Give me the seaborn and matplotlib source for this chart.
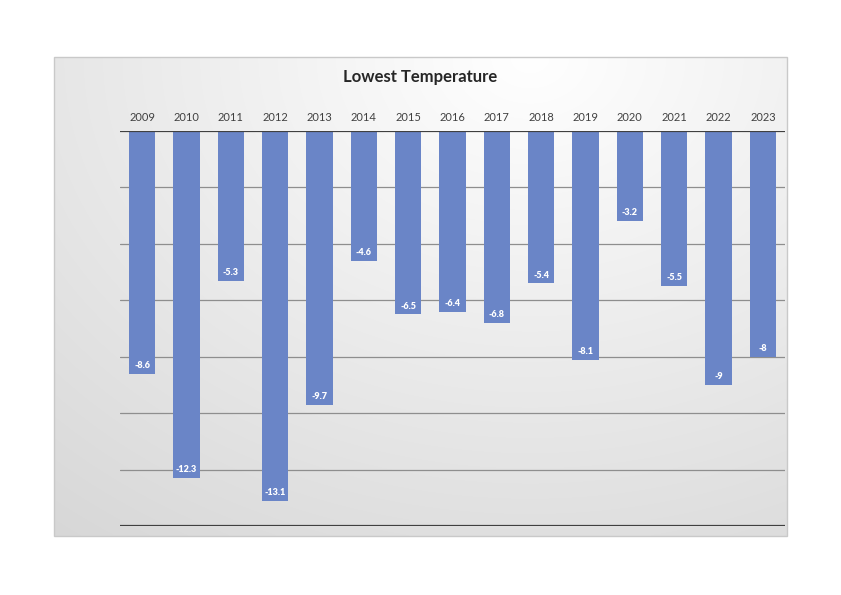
import numpy as np
import pandas as pd
import matplotlib
matplotlib.use("Agg")
import matplotlib.pyplot as plt
import seaborn as sns
from matplotlib.patches import Rectangle

years = ["2009", "2010", "2011", "2012", "2013", "2014", "2015", "2016",
         "2017", "2018", "2019", "2020", "2021", "2022", "2023"]
lowest = [-8.6, -12.3, -5.3, -13.1, -9.7, -4.6, -6.5, -6.4,
          -6.8, -5.4, -8.1, -3.2, -5.5, -9, -8]
title = "Lowest Temperature"

sns.set_theme(style="white")
plt.rcParams['font.family'] = ['Lato', 'DejaVu Sans']

W, H = 841, 595
fig = plt.figure(figsize=(W / 100, H / 100), dpi=100)
fig.patch.set_facecolor("white")

# chart area with radial gradient background
bx0, by0, bx1, by1 = 54, 57, 787, 536
bg = fig.add_axes([bx0 / W, 1 - by1 / H, (bx1 - bx0) / W, (by1 - by0) / H])
ny, nx = 240, 360
yy, xx = np.mgrid[0:1:ny * 1j, 0:1:nx * 1j]
cx, cy = 0.65, 0.0
d = np.sqrt(((xx - cx) * 1.2) ** 2 + (yy - cy) ** 2)
d = np.clip(d / 1.3, 0, 1)
shade = 1.0 - 0.16 * d
img = np.dstack([shade, shade, shade])
bg.imshow(img, aspect="auto", extent=[0, 1, 1, 0], interpolation="bilinear")
bg.set_xlim(0, 1)
bg.set_ylim(1, 0)
bg.axis("off")
bg.add_patch(Rectangle((0, 0), 1, 1, transform=bg.transAxes, fill=False,
                       edgecolor="#c9c9c9", lw=1.0, clip_on=False))

# main plot
px0, py0, px1, py1 = 120, 131, 785, 526
ax = fig.add_axes([px0 / W, 1 - py1 / H, (px1 - px0) / W, (py1 - py0) / H])
ax.set_facecolor("none")
df = pd.DataFrame({"year": years, "value": lowest})
sns.barplot(data=df, x="year", y="value", color="#6a85c7", saturation=1,
            width=0.59, ax=ax, zorder=3, linewidth=0)
ax.set_ylim(-14, 0)
ax.set_xlim(-0.5, len(years) - 0.5)
for s in ax.spines.values():
    s.set_visible(False)
ax.set_yticks(np.arange(-14, 1, 2))
ax.set_yticklabels([])
ax.tick_params(axis="y", length=0)
for v in np.arange(-12, 0, 2):
    ax.axhline(v, color="#8e8e8e", lw=0.9, zorder=1)
ax.axhline(0, color="#404040", lw=1.6, zorder=4)
ax.axhline(-14, color="#404040", lw=1.6, zorder=4)
ax.xaxis.tick_top()
ax.tick_params(axis="x", length=0, pad=6, labelsize=8, labelcolor="#404040")
ax.set_xlabel("")
ax.set_ylabel("")

for i, v in enumerate(lowest):
    ax.annotate(f"{v:g}", xy=(i, v), xytext=(0, 6), textcoords="offset points",
                ha="center", va="center", color="white", fontsize=6.5,
                fontweight="heavy", zorder=5)

fig.text(420 / W, 1 - 77 / H, title, ha="center", va="center",
         fontsize=12, fontweight="bold", color="#262626")

fig.savefig("out.png", dpi=100)
